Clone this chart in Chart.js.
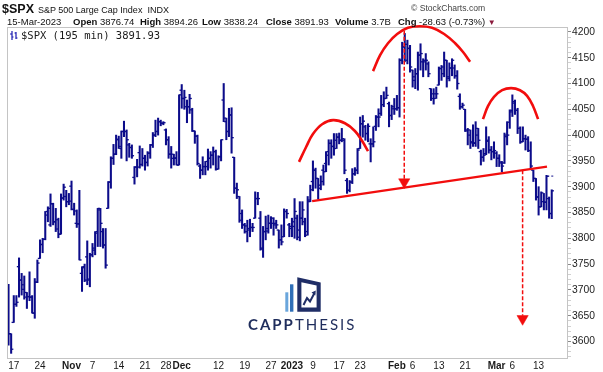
<!DOCTYPE html>
<html>
<head>
<meta charset="utf-8">
<script src="https://cdn.jsdelivr.net/npm/chart.js@4.4.0/dist/chart.umd.min.js"></script>
<style>
html, body { margin: 0; padding: 0; background: #fff; }
#wrap { position: relative; width: 603px; height: 372px; overflow: hidden; font-family: "Liberation Sans", Arial, sans-serif; color: #111; }
#c { position: absolute; left: 0; top: 0; }
.a { position: absolute; white-space: nowrap; }
.h2 { font-size: 9.5px; top: 16px; line-height: 11px; }
.h2 b { font-weight: bold; }
#legend { position: absolute; left: 10px; top: 29px; font-family: "DejaVu Sans Mono", monospace; font-size: 10.5px; color: #1a1a1a; line-height: 12px; }
#logo { position: absolute; left: 248px; top: 316px; font-family: Lato, "Open Sans", sans-serif; font-size: 15px; letter-spacing: 2px; color: #1f2d5c; line-height: 16px; }
</style>
</head>
<body>
<div id="wrap">
  <canvas id="c" width="603" height="372"></canvas>

  <div class="a" style="left:2px;top:1px;line-height:13px;">
    <b style="font-size:12.5px;">$SPX</b><span style="font-size:9px;margin-left:4px;">S&amp;P 500 Large Cap Index</span><span style="font-size:9px;margin-left:5px;">INDX</span>
  </div>
  <div class="a" style="left:411px;top:3px;font-size:8.6px;color:#444;line-height:11px;">© StockCharts.com</div>

  <div class="a h2" style="left:7px;">15-Mar-2023</div>
  <div class="a h2" style="left:73px;"><b>Open</b> 3876.74</div>
  <div class="a h2" style="left:140px;"><b>High</b> 3894.26</div>
  <div class="a h2" style="left:202px;"><b>Low</b> 3838.24</div>
  <div class="a h2" style="left:266px;"><b>Close</b> 3891.93</div>
  <div class="a h2" style="left:335px;"><b>Volume</b> 3.7B</div>
  <div class="a h2" style="left:398px;"><b>Chg</b> -28.63 (-0.73%) <span style="color:#8b1a3c;font-size:8px;">▼</span></div>

  <div id="legend">
    <svg width="8" height="9" style="vertical-align:-1px;margin-right:3px;">
      <path d="M2 0 V9 M0 3 H2 M2 6 H3.5 M6 1 V8 M4.5 2 H6 M6 7 H7.5" stroke="#1a1ab0" stroke-width="1.2" fill="none"/>
    </svg>$SPX (195 min) 3891.93
  </div>

  <svg class="a" style="left:283px;top:276px;" width="40" height="38">
    <rect x="2.3" y="16.3" width="3" height="19.4" fill="#6aa6dc"/>
    <rect x="7" y="8.3" width="3.4" height="27.4" fill="#2f6fb8"/>
    <path d="M14.3 1.3 L37.7 6.5 L37.7 35.7 L14.3 35.7 Z M18.4 6.2 L33.6 9.6 L33.6 31.6 L18.4 31.6 Z" fill="#1f2d66" fill-rule="evenodd"/>
    <path d="M20.5 29 L24 22 L27 25.5 L31.5 17" stroke="#1f2d66" stroke-width="2" fill="none"/>
    <path d="M28.5 16.5 L32.8 14.5 L32.3 19.5 Z" fill="#1f2d66"/>
  </svg>
  <div id="logo"><b style="font-weight:bold;">CAPP</b>THESIS</div>
</div>

<script>
// 195-minute bars, 14-Oct-2022 .. 15-Mar-2023 (two bars per session)
const open = [
  3703,3615,3637,3672,3745,3719,3701,3695,3687,3686,3655,3715,3761,3788,3798,3852,3826,3867,3832,3818,
  3808,3878,3881,3871,3901,3856,3829,3828,3732,3745,3764,3721,3768,3777,3813,3855,3813,3787,3858,3909,
  3955,3963,3992,3974,4007,4007,3981,3976,3918,3938,3966,3943,3955,3947,3965,3981,4000,4007,4026,4023,
  4010,3991,3963,3955,3956,3942,4087,4071,4055,4055,4049,4008,3998,3940,3932,3939,3949,3955,3961,3968,
  3934,3958,4068,4026,4007,4039,3957,3897,3881,3848,3826,3813,3819,3821,3839,3877,3839,3781,3813,3819,
  3829,3829,3829,3816,3797,3803,3852,3826,3819,3823,3839,3816,3839,3832,3813,3871,3910,3932,3916,3903,
  3932,3945,3968,3984,3978,3990,3996,3990,3990,3912,3893,3909,3925,3932,3974,4022,4016,4003,3983,3983,
  4017,4035,4042,4059,4071,4061,4038,4051,4051,4053,4145,4171,4145,4168,4126,4106,4119,4155,4142,4145,
  4138,4090,4071,4080,4097,4129,4119,4145,4110,4130,4130,4115,4075,4055,4050,4010,4000,3985,3985,4013,
  3968,3957,3964,3988,3971,3968,3965,3955,3946,3946,3997,4025,4048,4062,4048,4013,3987,3993,3992,3970,
  3932,3916,3880,3861,3871,3870,3877,3848
];
const high = [
  3711,3615,3689,3689,3762,3732,3727,3695,3735,3689,3722,3758,3797,3800,3852,3861,3886,3868,3858,3839,
  3886,3905,3893,3887,3911,3868,3855,3893,3745,3750,3795,3771,3790,3813,3858,3858,3819,3819,3910,3958,
  3982,4000,3998,4008,4027,4010,3984,3981,3939,3953,3979,3974,3961,3968,3982,4005,4029,4033,4029,4026,
  4012,3997,3978,3963,3968,4078,4098,4087,4068,4079,4052,4008,4000,3943,3958,3949,3973,3968,3977,3971,
  3960,3991,4100,4033,4052,4053,3957,3907,3881,3855,3829,3835,3837,3829,3890,3889,3852,3823,3843,3845,
  3842,3840,3835,3816,3826,3857,3856,3829,3839,3877,3845,3871,3871,3839,3881,3903,3950,3936,3916,3921,
  3942,3968,3991,3991,4003,4003,4004,4013,3993,3916,3912,3935,3937,3974,4035,4038,4019,4022,3993,4016,
  4038,4051,4077,4084,4093,4064,4058,4071,4077,4148,4180,4197,4184,4174,4126,4129,4161,4177,4148,4158,
  4142,4090,4090,4093,4132,4135,4161,4145,4140,4148,4136,4125,4080,4062,4050,4013,4010,4020,4026,4013,
  3971,3974,4016,3997,3978,3987,3968,3962,3949,4004,4026,4049,4078,4068,4052,4016,4016,4000,3997,3987,
  3932,3916,3900,3890,3887,3922,3880,3894
];
const low = [
  3593,3577,3637,3668,3686,3690,3682,3664,3679,3655,3645,3714,3761,3772,3797,3832,3823,3826,3813,3801,
  3808,3874,3861,3865,3855,3845,3821,3758,3697,3716,3710,3706,3764,3768,3784,3784,3781,3742,3858,3897,
  3943,3962,3974,3955,3997,3950,3957,3955,3905,3919,3936,3940,3932,3940,3955,3976,3997,4000,4018,4020,
  3981,3955,3936,3942,3942,3942,4052,4050,4024,4042,4007,3984,3942,3916,3923,3923,3932,3936,3942,3932,
  3934,3950,4026,3991,3997,3965,3887,3877,3831,3819,3810,3793,3803,3813,3839,3865,3777,3763,3797,3810,
  3819,3806,3819,3781,3787,3803,3839,3803,3803,3800,3797,3795,3826,3803,3806,3871,3892,3897,3876,3894,
  3903,3929,3942,3955,3961,3974,3983,3987,3925,3887,3890,3906,3922,3925,3974,3996,3990,3987,3948,3977,
  4009,4016,4038,4055,4071,4016,4030,4040,4048,4035,4138,4142,4138,4122,4093,4090,4087,4126,4113,4126,
  4113,4067,4060,4071,4097,4106,4113,4093,4105,4115,4110,4089,4050,4052,4007,3981,3974,3978,3978,3974,
  3942,3949,3962,3965,3952,3955,3939,3939,3929,3945,3981,4013,4036,4040,4003,3984,3987,3971,3968,3934,
  3910,3874,3845,3861,3855,3855,3839,3838
];
const close = [
  3615,3585,3672,3676,3719,3710,3686,3687,3686,3655,3715,3752,3788,3798,3845,3858,3867,3832,3836,3808,
  3878,3899,3871,3872,3856,3853,3828,3758,3743,3719,3719,3768,3781,3810,3858,3829,3787,3748,3909,3955,
  3963,3991,3978,4007,4007,3991,3976,3960,3938,3938,3943,3955,3947,3965,3981,4000,4007,4026,4023,4024,
  3991,3963,3963,3955,3942,4078,4071,4073,4055,4071,4008,3998,3945,3932,3939,3939,3955,3961,3968,3934,
  3958,3991,4033,4007,4039,3995,3897,3894,3835,3826,3824,3816,3821,3821,3877,3877,3779,3813,3814,3829,
  3839,3826,3826,3797,3793,3852,3848,3823,3832,3852,3802,3839,3855,3806,3874,3894,3932,3916,3897,3910,
  3929,3961,3984,3978,3974,3996,3990,3993,3932,3893,3909,3925,3932,3971,4022,4027,4003,4017,3983,3987,
  4035,4035,4059,4071,4077,4038,4055,4051,4053,4145,4171,4176,4168,4132,4113,4119,4155,4158,4142,4145,
  4119,4080,4071,4080,4129,4132,4145,4113,4130,4145,4115,4100,4055,4058,4008,4010,3987,3984,4000,3990,
  3957,3961,3990,3971,3968,3970,3955,3948,3940,4000,4000,4045,4065,4048,4013,3987,3993,3992,3970,3940,
  3916,3880,3861,3888,3870,3920,3848,3892
];
const prevClose = 3920.56;

// x axis: bar index of the session each label marks
const xTickIdx  = [2, 12, 24, 32, 42, 52, 60, 66, 80, 90, 100, 108, 116, 126, 134, 148, 154, 164, 174, 186, 192, 202];
const xTickText = ['17','24','Nov','7','14','21','28','Dec','12','19','27','2023','9','17','23','Feb','6','13','21','Mar','6','13'];
const xTickBold = [0,0,1,0,0,0,0,1,0,0,0,1,0,0,0,1,0,0,0,1,0,0];
const yTickVals = [3600, 3650, 3700, 3750, 3800, 3850, 3900, 3950, 4000, 4050, 4100, 4150, 4200];

// hand-drawn markup (bar index, price)
const arc1X = [110.7, 113.4, 116.0, 119.5, 123.7, 128.2, 132.0, 134.7, 137.0];
const arc1Y = [3948, 3977, 4002, 4021, 4029, 4023, 4008, 3989, 3969];
const arc2X = [138.9, 141.6, 144.6, 148.1, 152.2, 156.8, 161.4, 166.0, 170.2, 173.2, 175.9];
const arc2Y = [4124, 4155, 4178, 4196, 4208, 4211, 4208, 4196, 4178, 4161, 4142];
const arc3X = [180.8, 182.7, 185.0, 188.1, 191.5, 194.9, 197.6, 199.9, 201.8];
const arc3Y = [4031, 4056, 4074, 4087, 4091, 4087, 4076, 4056, 4031];
const neckX = [115.7, 205.2];
const neckY = [3872, 3939];
const drop1X = 150.8, drop1From = 4202, drop1To = 3915, drop1Head = 3909;
const drop2X = 195.9, drop2From = 3932, drop2To = 3650, drop2Head = 3644;

const NAVY = '#0c0c8a';
const RED = '#f20d0d';

const pts = (xs, ys) => xs.map((x, k) => ({ x: x, y: ys[k] }));

const frame = {
  id: 'frame',
  beforeDatasetsDraw(chart) {
    const { ctx, chartArea: a } = chart;
    ctx.save();
    ctx.strokeStyle = '#c4c4c4';
    ctx.lineWidth = 1;
    ctx.strokeRect(a.left - 0.5, a.top + 0.5, a.right - a.left, a.bottom - a.top);
    ctx.restore();
  }
};

const redLine = (data, extra) => Object.assign({
  type: 'line', data: data, borderColor: RED, borderWidth: 2.6, pointRadius: 0,
  tension: 0.4, clip: false, order: 0
}, extra || {});

new Chart(document.getElementById('c'), {
  type: 'bar',
  data: {
    datasets: [
      {
        type: 'bar',
        data: high.map((h, i) => ({ x: i, y: [low[i], h] })),
        backgroundColor: NAVY, borderWidth: 0, barThickness: 1.4, grouped: false, order: 3
      },
      {
        type: 'line', showLine: false, order: 2,
        data: open.map((o, i) => ({ x: i - 0.42, y: o })),
        pointStyle: 'line', pointRadius: 1.1, pointBorderWidth: 1.3, pointBorderColor: NAVY, pointHoverRadius: 0
      },
      {
        type: 'line', showLine: false, order: 2,
        data: close.map((c, i) => ({ x: i + 0.42, y: c })),
        pointStyle: 'line', pointRadius: 1.1, pointBorderWidth: 1.3, pointBorderColor: NAVY, pointHoverRadius: 0
      },
      {
        type: 'line', order: 1, pointRadius: 0, borderColor: NAVY, borderWidth: 1, borderDash: [2, 2],
        data: [{ x: 205.3, y: prevClose }, { x: 207.9, y: prevClose }]
      },
      redLine(pts(arc1X, arc1Y)),
      redLine(pts(arc2X, arc2Y)),
      redLine(pts(arc3X, arc3Y)),
      redLine(pts(neckX, neckY), { tension: 0, borderWidth: 2.4 }),
      redLine([{ x: drop1X, y: drop1From }, { x: drop1X, y: drop1To }], { tension: 0, borderWidth: 1.5, borderDash: [4, 2] }),
      redLine([{ x: drop2X, y: drop2From }, { x: drop2X, y: drop2To }], { tension: 0, borderWidth: 1.5, borderDash: [4, 2] }),
      {
        type: 'line', showLine: false, order: 0, clip: false,
        data: [{ x: drop1X, y: drop1Head }, { x: drop2X, y: drop2Head }],
        pointStyle: 'triangle', pointRotation: 180, pointRadius: 6.5,
        pointBackgroundColor: RED, pointBorderColor: RED, pointBorderWidth: 0.5
      }
    ]
  },
  options: {
    responsive: false,
    devicePixelRatio: 1,
    animation: false,
    layout: { padding: { top: 27, left: 8, right: 0, bottom: 0 } },
    plugins: { legend: { display: false }, tooltip: { enabled: false } },
    events: [],
    scales: {
      x: {
        type: 'linear', min: -0.2, max: 213.2, offset: false,
        afterBuildTicks: s => { s.ticks = xTickIdx.map(v => ({ value: v })); },
        afterFit: s => { s.height = 14; },
        grid: { display: false, drawTicks: false, tickLength: 0, offset: false },
        border: { display: false },
        ticks: {
          autoSkip: false, maxRotation: 0, padding: 2, color: '#1a1a1a',
          callback: (v, idx) => xTickText[idx],
          font: ctx => ({ family: '"Liberation Sans", Arial, sans-serif', size: 10, weight: xTickBold[ctx.index] ? 'bold' : 'normal' })
        }
      },
      y: {
        type: 'linear', position: 'right', min: 3568, max: 4209.5,
        afterBuildTicks: s => {
          // minor marks every 10 points, labels only on the listed values
          const t = [];
          for (let v = 3570; v <= 4200; v += 10) t.push({ value: v });
          s.ticks = t;
        },
        afterFit: s => { s.width = 35; },
        grid: {
          drawOnChartArea: false, drawTicks: true, tickLength: 3,
          tickColor: ctx => (ctx.tick && yTickVals.includes(ctx.tick.value)) ? '#8a8a8a' : '#d0d0d0'
        },
        border: { display: false },
        ticks: {
          autoSkip: false, padding: 1, color: '#1a1a1a',
          font: { family: '"Liberation Sans", Arial, sans-serif', size: 10.3 },
          callback: v => yTickVals.includes(v) ? String(v) : ''
        }
      }
    }
  },
  plugins: [frame]
});
</script>
</body>
</html>
